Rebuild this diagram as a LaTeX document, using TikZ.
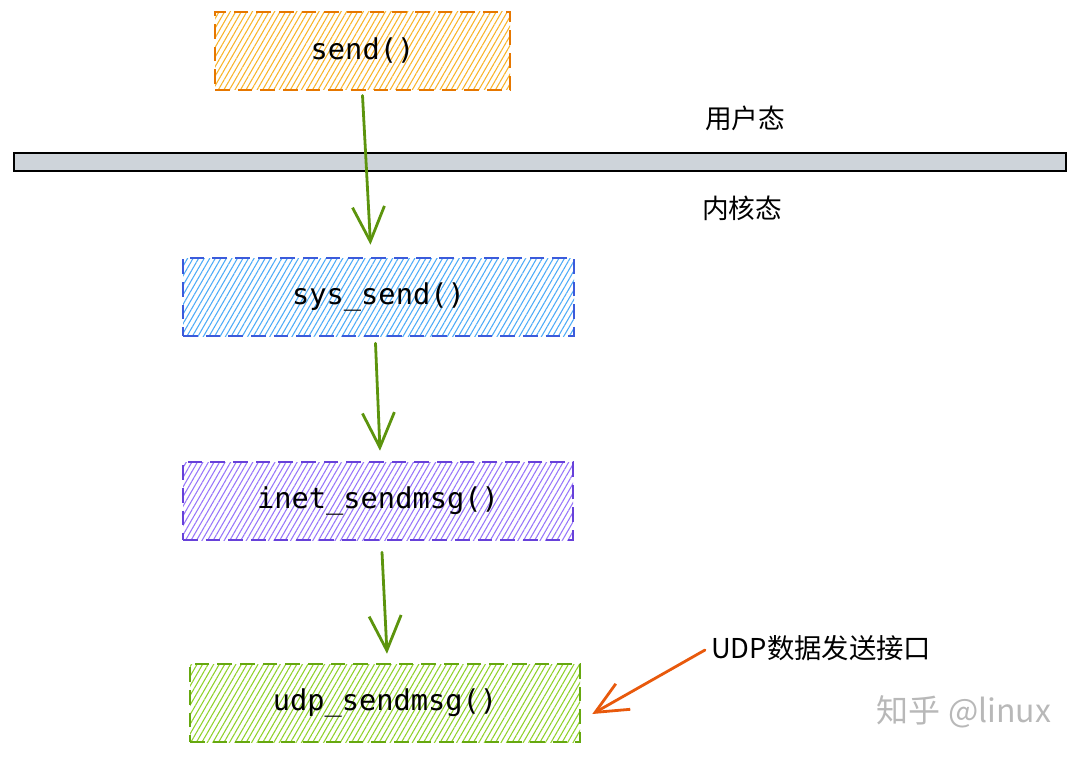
\documentclass[tikz,border=0pt]{standalone}
\usepackage{fontspec}
\setmonofont{DejaVu Sans Mono}
\newfontfamily\cjk{Noto Sans CJK SC}
\usetikzlibrary{patterns.meta,arrows.meta,calc}
\definecolor{orB}{HTML}{E67700}
\definecolor{orF}{HTML}{F8B42A}
\definecolor{blB}{HTML}{3B5BDB}
\definecolor{blF}{HTML}{4DABF7}
\definecolor{puB}{HTML}{6741D9}
\definecolor{puF}{HTML}{9775FA}
\definecolor{grB}{HTML}{66A80F}
\definecolor{grF}{HTML}{8FD12A}
\definecolor{arG}{HTML}{5C940D}
\definecolor{arR}{HTML}{E8590C}
\definecolor{barF}{HTML}{CED4DA}
\tikzset{
  fnbox/.style={draw=#1B, line width=1.9pt, dash pattern=on 11pt off 6pt,
    pattern={Lines[angle=60,distance=3.6pt,line width=0.8pt]}, pattern color=#1F,
    minimum height=58.5pt, inner sep=0pt, font=\ttfamily\fontsize{21.5}{24}\selectfont},
  flow/.style={draw=arG, line width=2.1pt, line cap=round,
    -{Straight Barb[length=26pt,width=24pt,line width=2.1pt]}},
  note/.style={font=\cjk\fontsize{20.5}{24}\selectfont, anchor=west, inner sep=0pt},
}
\begin{document}
\begin{tikzpicture}[x=0.75pt,y=-0.75pt]
\useasboundingbox (0,0) rectangle (1080,756);
\node[draw=black, fill=barF, line width=1.4pt, minimum width=789pt, minimum height=13.5pt, inner sep=0pt] (bar) at (540,162) {};
\node[fnbox=or, minimum width=221.25pt] (send) at (362.5,51) {send()};
\node[fnbox=bl, minimum width=293.25pt] (sys) at (378.5,297) {sys\_send()};
\node[fnbox=pu, minimum width=292.5pt] (inet) at (378,501) {inet\_sendmsg()};
\node[fnbox=gr, minimum width=292.5pt] (udp) at (385,703) {udp\_sendmsg()};
\node[font=\cjk\fontsize{20}{24}\selectfont, inner sep=0pt] (user) at (745,118) {用户态};
\node[font=\cjk\fontsize{20}{24}\selectfont, inner sep=0pt] (kern) at (742,208) {内核态};
\node[note] (lbl) at (711,648) {UDP数据发送接口};
\node[font=\cjk\fontsize{24}{28}\selectfont, text=black!28, inner sep=0pt] (wm) at (964,712) {知乎 @linux};
\draw[flow] ($(send.south)+(0,5)$) -- ($(sys.north)+(-8,-12)$);
\draw[flow] ($(sys.south)+(-3,6)$) -- ($(inet.north)+(2,-10)$);
\draw[flow] ($(inet.south)+(4,11)$) -- ($(udp.north)+(2,-9)$);
\draw[draw=arR, line width=2.1pt, line cap=round,
  -{Straight Barb[length=24pt,width=22pt,line width=2.1pt]}]
  ($(lbl.west)+(-6,2)$) -- ($(udp.east)+(11,11)$);
\end{tikzpicture}
\end{document}
